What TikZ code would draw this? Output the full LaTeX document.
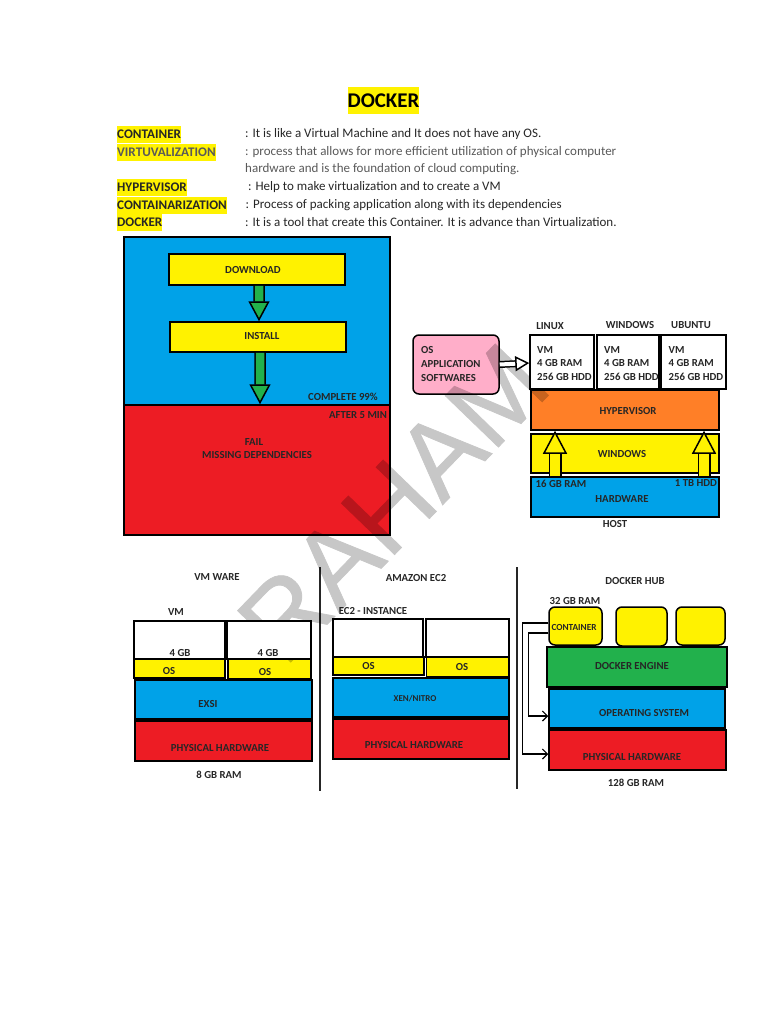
\documentclass[tikz,border=0pt]{standalone}
\usepackage{fontspec}
\setmainfont{Carlito}
\newfontfamily\wmfont[FakeBold=0.7]{Liberation Sans}
\usetikzlibrary{arrows.meta,fit}
\definecolor{cblue}{HTML}{00A2E8}
\definecolor{cred}{HTML}{ED1C24}
\definecolor{cyell}{HTML}{FFF200}
\definecolor{cgreen}{HTML}{22B14C}
\definecolor{corange}{HTML}{FF7F27}
\definecolor{cpink}{HTML}{FFAEC9}
\definecolor{cgrey}{HTML}{595959}
\tikzset{
  box/.style={draw=black,line width=1.5bp,inner sep=0pt},
  rbox/.style={box,rounded corners=6bp},
  lbl/.style={font=\bfseries\fontsize{10.8}{12}\selectfont,inner sep=0pt,text=black!85},
  lft/.style={lbl,anchor=west},
  hlt/.style={anchor=west,fill=yellow,inner xsep=0pt,inner ysep=0pt,minimum height=17bp,font=\bfseries\fontsize{13.2}{14}\selectfont,text=black!85},
  dfn/.style={anchor=west,inner sep=0pt,font=\fontsize{13.05}{14}\selectfont,text=black!85},
  fatgreen/.style={double=cgreen,double distance=8.5bp,line width=1.5bp,-{Triangle[length=20bp,width=21bp,fill=cgreen,line width=1.5bp]}},
  fatyell/.style={double=cyell,double distance=10bp,line width=1.5bp,-{Triangle[length=23bp,width=24bp,fill=cyell,line width=1.5bp]}},
  fatwhite/.style={double=white,double distance=4bp,line width=1.5bp,-{Triangle[length=14bp,width=15bp,fill=white,line width=1.5bp]}},
  rule/.style={line width=1.6bp,draw=black!85},
  link/.style={line width=1.2bp,-{Straight Barb[length=5bp,width=10bp]}}
}
\begin{document}
\begin{tikzpicture}[x=1bp,y=-1bp]
  \useasboundingbox (0,0) rectangle (768,1024);
  % heading
  \node[anchor=center,fill=yellow,minimum height=27bp,inner xsep=0pt,inner ysep=0pt,font=\bfseries\fontsize{21}{24}\selectfont] (title) at (383.5,100.5) {DOCKER};
  \node[hlt] (dcont) at (117,134) {CONTAINER};
  \node[hlt,text=cgrey] (dvirt) at (117,152) {VIRTUVALIZATION};
  \node[hlt] (dhyp)  at (117,187.5) {HYPERVISOR};
  \node[hlt] (dcnz)  at (117,205) {CONTAINARIZATION};
  \node[hlt] (ddock) at (117,222.5) {DOCKER};
  \node[dfn] (tcont) at (245,134) {: It is like a Virtual Machine and It does not have any OS.};
  \node[dfn,text=cgrey] (tvirt) at (245,152) {: process that allows for more efficient utilization of physical computer};
  \node[dfn,text=cgrey] (tvir2) at (245,169.5) {hardware and is the foundation of cloud computing.};
  \node[dfn] (thyp)  at (248,187.5) {: Help to make virtualization and to create a VM};
  \node[dfn] (tcnz)  at (245.5,205) {: Process of packing application along with its dependencies};
  \node[dfn] (tdock) at (245,222.5) {: It is a tool that create this Container. It is advance than Virtualization.};
  % install panel
  \node[box,fill=cblue,fit={(124,237)(390,405)}] (build) {};
  \node[box,fill=cred,fit={(124,405)(390,535)}] (fail) {};
  \node[box,fill=cyell,fit={(169,254)(345,285)}] (download) {};
  \node[box,fill=cyell,fit={(170,322)(346,352)}] (install) {};
  \draw[fatgreen] ([xshift=2bp]download.south) -- ([xshift=1bp]install.north);
  \draw[fatgreen] ([xshift=2bp]install.south) -- ([xshift=3bp]fail.north);
  \node[lbl] (ldown) at (253,270) {DOWNLOAD};
  \node[lbl] (linst) at (262,336) {INSTALL};
  \node[lbl] (lcomp) at (343,397) {COMPLETE 99\%};
  \node[lbl] (lmin)  at (358,415.5) {AFTER 5 MIN};
  \node[lbl] (lfail) at (254,442) {FAIL};
  \node[lbl] (lmiss) at (257,455.5) {MISSING DEPENDENCIES};
  % host panel
  \node[rbox,fill=cpink,fit={(413,335)(499,394)}] (apps) {};
  \node[box,fill=corange,fit={(531,390)(719,430)}] (hyper) {};
  \node[box,fill=cyell,fit={(531,434)(719,473)}] (guest) {};
  \node[box,fill=cblue,fit={(531,477)(719,517)}] (hard) {};
  \draw[fatyell] ([xshift=-70bp]hard.north) -- ([xshift=-70bp]hyper.south);
  \draw[fatyell] ([xshift=79bp]hard.north) -- ([xshift=79bp]hyper.south);
  \node[lft] (osa) at (421,350.5) {OS};
  \node[lft] (osb) at (421,364) {APPLICATION};
  \node[lft] (osc) at (421,378) {SOFTWARES};
  \node[lbl] (llin) at (550,326) {LINUX};
  \node[lbl] (lwin) at (630,325) {WINDOWS};
  \node[lbl] (lubu) at (691,325) {UBUNTU};
  \node[lbl] (lhyp) at (628,411) {HYPERVISOR};
  \node[lbl] (lgst) at (622,454) {WINDOWS};
  \node[lbl] (lhrd) at (622,499.5) {HARDWARE};
  \node[lbl] (lram) at (561,484) {16 GB RAM};
  \node[lbl] (lhdd) at (696,483) {1 TB HDD};
  \node[lbl] (lhst) at (615,524) {HOST};
  % vm ware
  \node[box,fill=cyell,fit={(134,659)(225,678)}] (woa) {};
  \node[box,fill=cyell,fit={(228,659.5)(311,679)}] (wob) {};
  \node[box,fill=cblue,fit={(135,680)(312,719)}] (exsi) {};
  \node[box,fill=cred,fit={(135,721)(312,761)}] (wphys) {};
  \node[lbl] (lvmw) at (217,577) {VM WARE};
  \node[lbl] (lvm)  at (176,612) {VM};
  \node[lbl] (lwoa) at (169,671) {OS};
  \node[lbl] (lwob) at (265,672) {OS};
  \node[lbl] (lexs) at (208,704) {EXSI};
  \node[lbl] (lwph) at (220,748) {PHYSICAL HARDWARE};
  \node[lbl] (lwrm) at (219,775) {8 GB RAM};
  % amazon
  \node[box,fill=cyell,fit={(333,657)(424,675)}] (eoa) {};
  \node[box,fill=cyell,fit={(426.5,657)(509,677)}] (eob) {};
  \node[box,fill=cblue,fit={(333,678)(509,717)}] (xen) {};
  \node[box,fill=cred,fit={(333,719)(509,759)}] (ephys) {};
  \node[lbl] (lamz) at (416,578) {AMAZON EC2};
  \node[lbl] (lec2) at (373,611) {EC2 - INSTANCE};
  \node[lbl] (leoa) at (368.5,665.5) {OS};
  \node[lbl] (leob) at (462,666.5) {OS};
  \node[lbl,font=\bfseries\fontsize{9}{10}\selectfont] (lxen) at (415,698.5) {XEN/NITRO};
  \node[lbl] (leph) at (414,745) {PHYSICAL HARDWARE};
  % docker hub
  \node[rbox,fill=cyell,fit={(549,607)(602,645)}] (conta) {};
  \node[rbox,fill=cyell,fit={(616,607)(667,646)}] (contb) {};
  \node[rbox,fill=cyell,fit={(676,607)(725,645)}] (contc) {};
  \node[box,fill=cgreen,fit={(547,647)(727,687)}] (engine) {};
  \node[box,fill=cblue,fit={(549,689)(725,728)}] (opsys) {};
  \node[box,fill=cred,fit={(549,730)(726,770)}] (dphys) {};
  \draw[link] ([yshift=3bp]conta.west) -- ++(-26,0) |- ([yshift=-4bp]dphys.west);
  \draw[link] ([yshift=-7bp]conta.west) -- ++(-20,0) |- ([yshift=-7.5bp]opsys.west);
  \node[lbl] (lhub) at (635,581) {DOCKER HUB};
  \node[lbl] (lgig) at (575,601) {32 GB RAM};
  \node[lbl,font=\bfseries\fontsize{9.3}{10}\selectfont] (lcon) at (574,627) {CONTAINER};
  \node[lbl] (leng) at (632,666) {DOCKER ENGINE};
  \node[lbl] (lops) at (644,712.5) {OPERATING SYSTEM};
  \node[lbl] (ldph) at (632,757) {PHYSICAL HARDWARE};
  \node[lbl] (ldrm) at (636,783) {128 GB RAM};
  % dividers
  \coordinate (ruleat) at (320,567);
  \coordinate (rulear) at (320,791);
  \coordinate (rulebt) at (517,567);
  \coordinate (rulebr) at (517,789);
  \draw[rule] (ruleat) -- (rulear);
  \draw[rule] (rulebt) -- (rulebr);
  % watermark
  \begin{scope}[transparency group,opacity=0.22]
    \node[rotate=46,text=black,inner sep=0pt,font=\wmfont\fontsize{108}{108}\selectfont] (mark) at (393,503) {RAHAM};
  \end{scope}
  % white boxes stay clear of the watermark
  \node[box,fill=white,fit={(530,335)(594,389)}] (vma) {};
  \node[box,fill=white,fit={(597,335)(659,389)}] (vmb) {};
  \node[box,fill=white,fit={(661,335)(726,389)}] (vmc) {};
  \draw[fatwhite] (apps.east) -- ([yshift=-1bp]vma.west);
  \foreach \nm/\xx in {a/537,b/604,c/668.5} {
    \node[lft] (vm\nm)  at (\xx,350) {VM};
    \node[lft] (ram\nm) at (\xx,363.5) {4 GB RAM};
    \node[lft] (hdd\nm) at (\xx,377) {256 GB HDD};
  }
  \node[box,fill=white,fit={(134,621)(225,659)}] (wa) {};
  \node[box,fill=white,fit={(227,621)(311,659)}] (wb) {};
  \node[lbl] (lga)  at (180,652.5) {4 GB};
  \node[lbl] (lgb)  at (268,652.5) {4 GB};
  \node[box,fill=white,fit={(333,619)(423,657)}] (ea) {};
  \node[box,fill=white,fit={(426,619)(509,657)}] (eb) {};
\end{tikzpicture}
\end{document}
